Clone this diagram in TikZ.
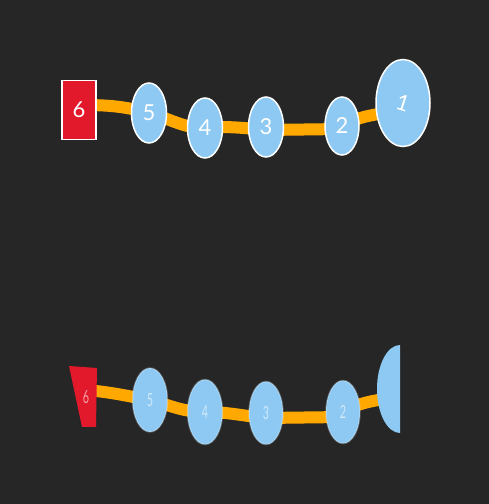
\documentclass[tikz,border=0pt]{standalone}
\usepackage{fontspec}
\setmainfont{Lato}
\usetikzlibrary{shapes.geometric}
\pgfdeclarelayer{bg}
\pgfsetlayers{bg,main}
\definecolor{slate}{HTML}{262626}
\definecolor{beadblue}{HTML}{8DC9F2}
\definecolor{tailred}{HTML}{E2182B}
\definecolor{ropeorange}{HTML}{FFA800}
\newcommand{\squeeze}[1]{\scalebox{.6}[1]{#1}}
\tikzset{every picture/.append style={x=1pt, y=1pt}}
\tikzset{
    bead/.style={ellipse, fill=beadblue, draw=white, line width=1.5pt, inner sep=0pt,
    	minimum width=35pt, minimum height=60pt, text=white,
    	font=\fontsize{22}{22}\selectfont},
    ghost/.style={bead, draw opacity=.25, minimum height=64pt, text opacity=.6,
    	font=\fontsize{18}{18}\selectfont},
    tail/.style={rectangle, fill=tailred, draw=white, line width=1.5pt, inner sep=0pt,
    	minimum width=34pt, minimum height=59pt, text=white,
    	font=\fontsize{22}{22}\selectfont},
    link/.style={draw=ropeorange, line width=12pt}
}

\begin{document}
\begin{tikzpicture}
	\begin{pgfonlayer}{bg}
	\fill[slate] (0,0) rectangle (489,504);
	\end{pgfonlayer}
	% upper chain
	\node[tail] (n6) at (79,394) {6};
	\node[bead] (n5) at (149,391) {5};
	\node[bead] (n4) at (205,376) {4};
	\node[bead] (n3) at (266,377) {3};
	\node[bead, minimum width=34pt, minimum height=58pt] (n2) at (342,378) {2};
	\node[bead, minimum width=54pt, minimum height=87pt] (n1) at (403,401) {\rotatebox{-18}{1}};
	% lower chain
	\fill[tailred] (69,138) -- (97,136) -- (96,77) -- (82,77) -- cycle;
	\node[draw=none, text=white, text opacity=.6, font=\fontsize{18}{18}\selectfont] (r6) at (86,107) {\squeeze{6}};
	\node[ghost] (b5) at (150,104) {\squeeze{5}};
	\node[ghost, minimum height=65pt] (b4) at (205,92) {\squeeze{4}};
	\node[ghost, minimum width=34pt, minimum height=63pt] (b3) at (266,91) {\squeeze{3}};
	\node[ghost, minimum width=34pt, minimum height=63pt] (b2) at (343,92) {\squeeze{2}};
	\fill[beadblue] (400,71) arc[start angle=270, end angle=90, x radius=23, y radius=44] -- cycle;
	\coordinate (b1) at (400,115);
	\begin{pgfonlayer}{bg}
	\draw[link] ([yshift=5pt]n6.center) to[out=0,in=165] (n5.center);
	\draw[link] (n5.center) to[out=-15,in=180] (n4.center);
	\draw[link] (n4.center) to[out=5,in=175] ([yshift=-3pt]n3.center);
	\draw[link] ([yshift=-3pt]n3.center) -- ([yshift=-3pt]n2.center);
	\draw[link] (n2.center) to[out=30,in=195] ([yshift=-6pt]n1.center);
	\draw[link] ([yshift=7pt]r6.center) to[out=-5,in=170] (b5.center);
	\draw[link] (b5.center) to[out=-15,in=180] (b4.center);
	\draw[link] (b4.center) to[out=0,in=175] ([yshift=-5pt]b3.center);
	\draw[link] ([yshift=-5pt]b3.center) -- ([yshift=-5pt]b2.center);
	\draw[link] (b2.center) to[out=30,in=190] ([xshift=-10pt,yshift=-9pt]b1);
	\end{pgfonlayer}
\end{tikzpicture}
\end{document}
